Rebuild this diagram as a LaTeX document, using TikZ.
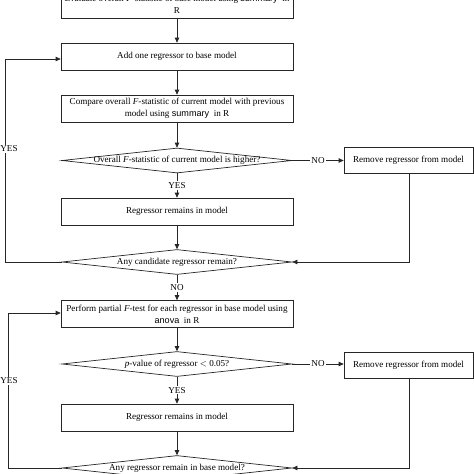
\documentclass[tikz,border=0pt]{standalone}
\usepackage{fontspec}
\setmainfont{Liberation Serif}
\newfontfamily\codefont{Liberation Sans}
\usetikzlibrary{shapes.geometric,arrows.meta}
\begin{document}
\begin{tikzpicture}[x=1pt,y=-1pt,
  every node/.style={font=\fontsize{9.1}{12}\selectfont},
  line/.style={draw=black!85, line width=0.7pt},
  arr/.style={line, -{Triangle[length=5pt,width=4.5pt]}},
  procbox/.style={line, rectangle, minimum width=232pt, minimum height=27pt, inner sep=1pt, align=center},
  sidebox/.style={line, rectangle, minimum width=129pt, minimum height=26pt, inner sep=1pt, align=center},
  decision/.style={line, diamond, inner sep=0pt, minimum width=230pt, minimum height=25pt},
  lbl/.style={fill=white, inner sep=1pt}
]
\useasboundingbox (0,0) rectangle (474,474);
\node[procbox] (b1) at (177,4.5) {Evaluate overall \textit{F}-statistic of base model using {\codefont summary}\ \ in\\R};
\node[procbox] (b2) at (177,56.5) {Add one regressor to base model};
\node[procbox] (b3) at (177,108.5) {Compare overall \textit{F}-statistic of current model with previous\\model using {\codefont summary}\ \ in R};
\node[decision] (d1) at (177,160.5) {};
\node (t1) at (d1) {Overall \textit{F}-statistic of current model is higher?};
\node[sidebox] (r1) at (408.5,160) {Remove regressor from model};
\node[procbox] (b4) at (177,211.5) {Regressor remains in model};
\node[decision] (d2) at (177,262) {};
\node (t2) at (d2) {Any candidate regressor remain?};
\node[procbox] (b5) at (177,314) {Perform partial \textit{F}-test for each regressor in base model using\\{\codefont anova}\ \ in R};
\node[decision] (d3) at (177,364) {};
\node (t3) at (d3) {\textit{p}-value of regressor $<$ 0.05?};
\node[sidebox] (r2) at (408.5,365.5) {Remove regressor from model};
\node[procbox] (b6) at (177,417.5) {Regressor remains in model};
\node[decision] (d4) at (177,468) {};
\node (t4) at (d4) {Any regressor remain in base model?};

\coordinate (c1a) at (5,262);
\coordinate (c1b) at (5,59);
\coordinate (c2a) at (8,468);
\coordinate (c2b) at (8,313);
\coordinate (c3) at (409,262);
\coordinate (c4) at (409,468);

\draw[arr] (b1) -- (b2);
\draw[arr] (b2) -- (b3);
\draw[arr] (b3) -- (d1);
\draw[arr] (d1.south) -- node[lbl]{YES} (b4.north);
\draw[arr] (d1.east) -- node[lbl, pos=0.5]{NO} (r1.west |- d1.east);
\draw[arr] (b4) -- (d2);
\draw[arr] (r1.south -| c3) -- (c3) -- (d2.east);
\draw[arr] (d2.west) -- (c1a) -- (c1b) -- (b2.west |- c1b);
\node[lbl] (y1) at (9,149) {YES};
\draw[arr] (d2.south) -- node[lbl]{NO} (b5.north);
\draw[arr] (b5) -- (d3);
\draw[arr] (d3.east) -- node[lbl, pos=0.5]{NO} (r2.west |- d3.east);
\draw[arr] (d3.south) -- node[lbl]{YES} (b6.north);
\draw[arr] (b6) -- (d4);
\draw[arr] (r2.south -| c4) -- (c4) -- (d4.east);
\draw[arr] (d4.west) -- (c2a) -- (c2b) -- (b5.west |- c2b);
\node[lbl] (y2) at (9,381) {YES};
\end{tikzpicture}
\end{document}
